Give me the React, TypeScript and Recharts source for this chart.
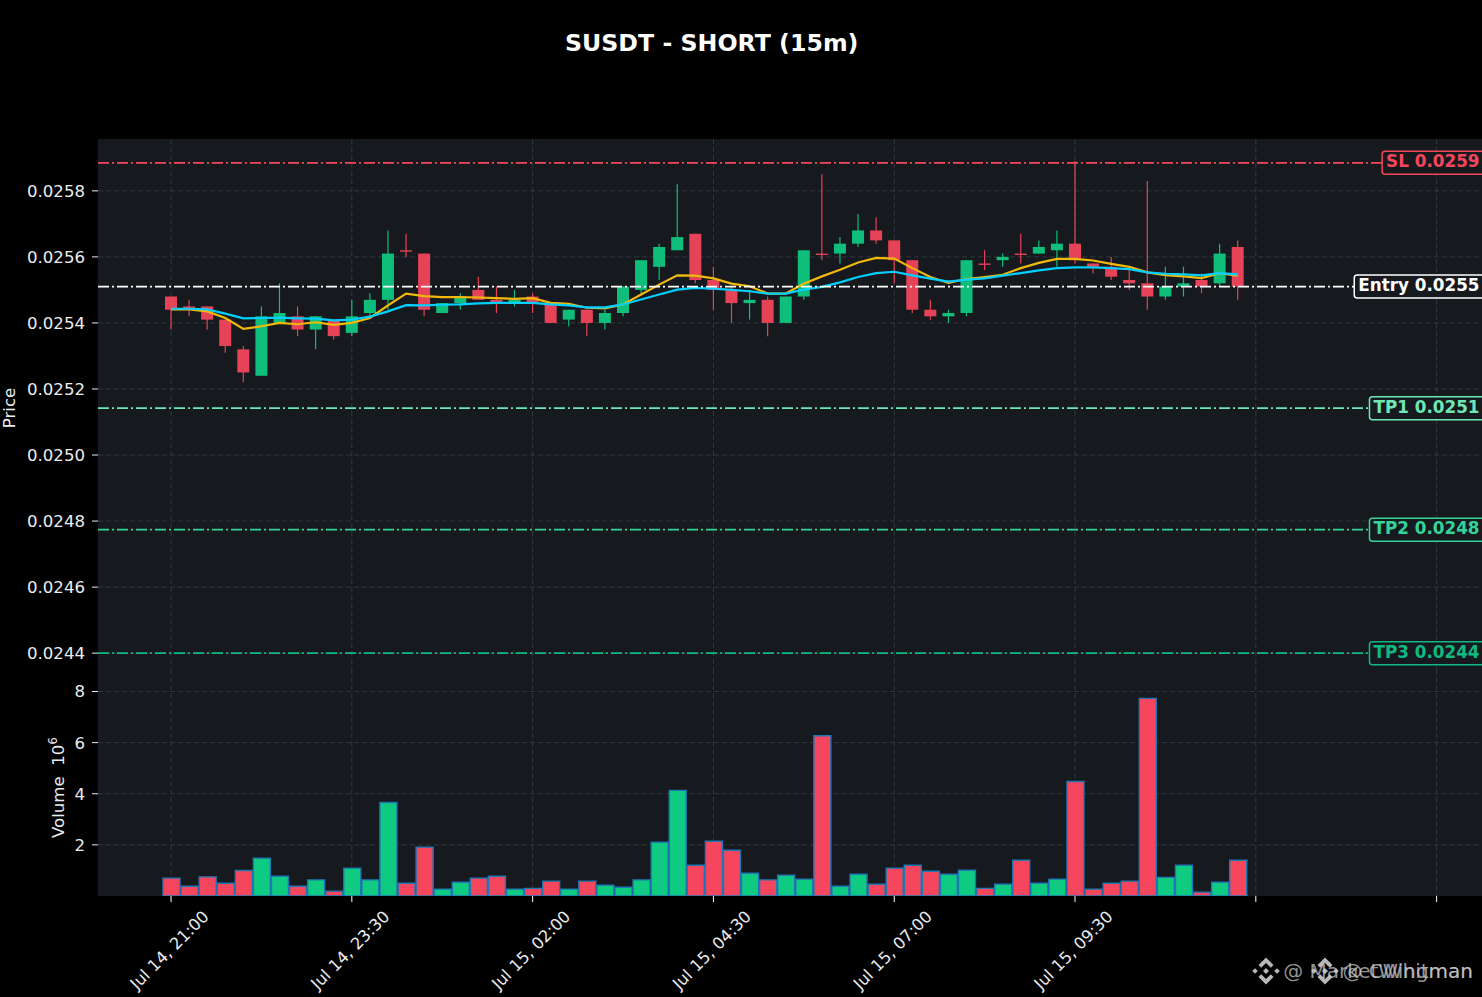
import React from "react";
import {
  Bar,
  CartesianGrid,
  Cell,
  ComposedChart,
  Line,
  ReferenceLine,
  XAxis,
  YAxis,
} from "recharts";

const opens = [
  0.02548, 0.02545, 0.02545, 0.02541, 0.02532, 0.02524, 0.0254, 0.02542, 0.02538, 0.02541,
  0.02537, 0.02543, 0.02547, 0.02562, 0.02561, 0.02543, 0.02546, 0.0255, 0.02547, 0.02546,
  0.02548, 0.02546, 0.02541, 0.02544, 0.0254, 0.02543, 0.0255, 0.02557, 0.02562, 0.02567,
  0.02553, 0.0255, 0.02546, 0.02547, 0.0254, 0.02548, 0.02561, 0.02561, 0.02564, 0.02568,
  0.02565, 0.02559, 0.02544, 0.02542, 0.02543, 0.02558, 0.02559, 0.02561, 0.02561, 0.02562,
  0.02564, 0.02558, 0.02557, 0.02553, 0.02552, 0.02548, 0.02551, 0.02553, 0.02552, 0.02563,
];
const highs = [
  0.02548, 0.02547, 0.02545, 0.02541, 0.02533, 0.02545, 0.02552, 0.02545, 0.02542, 0.02541,
  0.02547, 0.02549, 0.02568, 0.02567, 0.02561, 0.02546, 0.02549, 0.02554, 0.02551, 0.0255,
  0.02549, 0.02546, 0.02544, 0.02544, 0.02544, 0.02551, 0.02559, 0.02564, 0.02582, 0.02567,
  0.02557, 0.02551, 0.0255, 0.02548, 0.02548, 0.02562, 0.02585, 0.02566, 0.02573, 0.02572,
  0.02565, 0.02559, 0.02547, 0.02544, 0.02559, 0.02562, 0.02561, 0.02567, 0.02565, 0.02568,
  0.02589, 0.02558, 0.0256, 0.02556, 0.02583, 0.02557, 0.02557, 0.02555, 0.02564, 0.02565,
];
const lows = [
  0.02538, 0.02542, 0.02538, 0.02531, 0.02522, 0.02524, 0.0254, 0.02536, 0.02532, 0.02535,
  0.02536, 0.02542, 0.02544, 0.0256, 0.02542, 0.02543, 0.02544, 0.02547, 0.02543, 0.02545,
  0.02543, 0.0254, 0.02539, 0.02536, 0.02538, 0.02542, 0.02549, 0.02553, 0.02562, 0.02552,
  0.02544, 0.0254, 0.02541, 0.02536, 0.0254, 0.02547, 0.02559, 0.02558, 0.02563, 0.02564,
  0.02552, 0.02543, 0.02541, 0.0254, 0.02542, 0.02556, 0.02557, 0.02558, 0.02561, 0.02557,
  0.02558, 0.02555, 0.02553, 0.0255, 0.02544, 0.02547, 0.02548, 0.02549, 0.02551, 0.02547,
];
const closes = [
  0.02544, 0.02544, 0.02541, 0.02533, 0.02525, 0.02542, 0.02543, 0.02538, 0.02542, 0.02536,
  0.02542, 0.02547, 0.02561, 0.02562, 0.02544, 0.02546, 0.02548, 0.02547, 0.02546, 0.02547,
  0.02546, 0.0254, 0.02544, 0.0254, 0.02543, 0.02551, 0.02559, 0.02563, 0.02566, 0.02553,
  0.0255, 0.02546, 0.02547, 0.0254, 0.02548, 0.02562, 0.02561, 0.02564, 0.02568, 0.02565,
  0.02559, 0.02544, 0.02542, 0.02543, 0.02559, 0.02558, 0.0256, 0.02561, 0.02563, 0.02564,
  0.02559, 0.02557, 0.02554, 0.02552, 0.02548, 0.02551, 0.02552, 0.02551, 0.02561, 0.02551,
];
const fastMa = [
  0.025441, 0.025441, 0.025435, 0.025415, 0.025382, 0.02539, 0.0254, 0.025396, 0.025402, 0.025394,
  0.0254, 0.025415, 0.025453, 0.025489, 0.025481, 0.025478, 0.025478, 0.025477, 0.025475, 0.025473,
  0.025475, 0.025461, 0.025458, 0.025446, 0.025444, 0.025456, 0.025486, 0.025516, 0.025544, 0.025543,
  0.025535, 0.025519, 0.025511, 0.025489, 0.025489, 0.025519, 0.025541, 0.025561, 0.025583, 0.025597,
  0.025595, 0.025566, 0.025539, 0.025521, 0.025533, 0.025539, 0.025546, 0.025566, 0.025582, 0.025594,
  0.025594, 0.025589, 0.025579, 0.02557, 0.025553, 0.025545, 0.025541, 0.025536, 0.025551, 0.025543,
];
const slowMa = [
  0.025443, 0.025443, 0.025441, 0.025428, 0.025414, 0.025415, 0.025416, 0.025414, 0.025413, 0.025408,
  0.02541, 0.025419, 0.025435, 0.025454, 0.025453, 0.025455, 0.025456, 0.025459, 0.025461, 0.025461,
  0.025461, 0.025456, 0.025453, 0.025447, 0.025447, 0.025456, 0.025471, 0.025486, 0.025501, 0.025506,
  0.025504, 0.0255, 0.025496, 0.025489, 0.025489, 0.025501, 0.025509, 0.025523, 0.025539, 0.025551,
  0.025555, 0.025544, 0.025534, 0.025525, 0.025531, 0.025535, 0.025543, 0.025551, 0.025559, 0.025566,
  0.025568, 0.025568, 0.025566, 0.025563, 0.025553, 0.025549, 0.025547, 0.025544, 0.025551, 0.025547,
];
const volumes = [
  0.7, 0.38, 0.75, 0.5, 1.0, 1.48, 0.77, 0.38, 0.63, 0.19,
  1.09, 0.63, 3.66, 0.5, 1.91, 0.27, 0.54, 0.7, 0.77, 0.27,
  0.3, 0.58, 0.27, 0.58, 0.42, 0.34, 0.63, 2.1, 4.13, 1.2,
  2.14, 1.79, 0.89, 0.63, 0.81, 0.66, 6.27, 0.38, 0.85, 0.46,
  1.09, 1.2, 0.97, 0.85, 1.01, 0.3, 0.46, 1.4, 0.5, 0.66,
  4.48, 0.27, 0.5, 0.58, 7.73, 0.73, 1.2, 0.15, 0.54, 1.4,
];

const xTicks = [0, 10, 20, 30, 40, 50, 60, 70];
const xTickLabels = [
  "Jul 14, 21:00",
  "Jul 14, 23:30",
  "Jul 15, 02:00",
  "Jul 15, 04:30",
  "Jul 15, 07:00",
  "Jul 15, 09:30",
  "",
  "",
];
const priceTicks = [0.0244, 0.0246, 0.0248, 0.025, 0.0252, 0.0254, 0.0256, 0.0258];
const volumeTicks = [2, 4, 6, 8];

const levelNames = ["SL", "Entry", "TP1", "TP2", "TP3"];
const levelPrices = [0.025885, 0.02551, 0.025142, 0.024774, 0.0244];
const levelTexts = ["0.0259", "0.0255", "0.0251", "0.0248", "0.0244"];
const levelColors = ["#F6465D", "#FFFFFF", "#6EE7B7", "#34D399", "#10B981"];

const candleData = opens.map((open, i) => ({
  i,
  open,
  high: highs[i],
  low: lows[i],
  close: closes[i],
  fastMa: fastMa[i],
  slowMa: slowMa[i],
}));
const volumeData = volumes.map((volume, i) => ({ i, volume }));

const UP = "#0ECB81";
const DOWN = "#F6465D";
const PANEL = "#161A1E";
const GRID = "#33383F";
const TEXT = "#EAECEF";
const FONT = "'DejaVu Sans', sans-serif";
const X_DOMAIN: [number, number] = [-4.04, 72.51];
const WIDTH = 1482;
const LABEL_FONT = `bold 16.8px ${FONT}`;

function textWidth(text: string) {
  const ctx = document.createElement("canvas").getContext("2d");
  if (!ctx) return text.length * 10;
  ctx.font = LABEL_FONT;
  return ctx.measureText(text).width;
}

/** Wick spans low..high (the bar range), body is placed inside it by ratio. */
function Candle(props: any) {
  const { x, y, width, height, payload } = props;
  const { open, close, high, low } = payload;
  const color = close > open ? UP : DOWN;
  const perUnit = high === low ? 0 : height / (high - low);
  const top = y + (high - Math.max(open, close)) * perUnit;
  const bodyH = Math.max(Math.abs(open - close) * perUnit, 1.4);
  const cx = x + width / 2;
  return (
    <g opacity={0.93}>
      <line x1={cx} x2={cx} y1={y} y2={y + height} stroke={color} strokeWidth={1.2} />
      <rect x={x} y={top} width={width} height={bodyH} fill={color} />
    </g>
  );
}

function LevelLabel(props: any) {
  const { viewBox, text, color } = props;
  const y = viewBox.y;
  const w = textWidth(text) + 6;
  return (
    <g>
      <rect
        x={WIDTH - w - 0.5}
        y={y - 11.5}
        width={w + 6}
        height={23}
        rx={3}
        fill={PANEL}
        stroke={color}
        strokeWidth={1.5}
      />
      <text
        x={WIDTH - 2.5}
        y={y - 0.5}
        textAnchor="end"
        dominantBaseline="middle"
        fill={color}
        style={{ font: LABEL_FONT }}
      >
        {text}
      </text>
    </g>
  );
}

function AngledTick({ x = 0, y = 0, payload }: any) {
  const label = xTickLabels[xTicks.indexOf(payload?.value)];
  const cx = x - 1.5;
  const cy = y + 46;
  return (
    <text
      x={cx}
      y={cy}
      textAnchor="middle"
      dominantBaseline="central"
      transform={`rotate(-45, ${cx}, ${cy})`}
      fontSize={16.3}
      fontFamily={FONT}
      fill={TEXT}
    >
      {label}
    </text>
  );
}

function BinanceMark({ left }: { left: number }) {
  const d = (cx: number, cy: number, r: number) =>
    `${cx - r},${cy} ${cx},${cy - r} ${cx + r},${cy} ${cx},${cy + r}`;
  return (
    <svg
      width={28}
      height={28}
      viewBox="0 0 28 28"
      style={{ position: "absolute", left, top: 957 }}
    >
      <g fill="#D8D8D8" fillOpacity={0.85}>
        <polygon points={d(14, 14, 3)} />
        <polygon points={d(3, 14, 2.8)} />
        <polygon points={d(25, 14, 2.8)} />
        <path d="M14 0.5 L21.5 8 L18.8 10.7 L14 6 L9.2 10.7 L6.5 8 Z" />
        <path d="M14 27.5 L21.5 20 L18.8 17.3 L14 22 L9.2 17.3 L6.5 20 Z" />
      </g>
    </svg>
  );
}

const watermarkStyle: React.CSSProperties = {
  position: "absolute",
  right: 9,
  top: 960,
  fontFamily: FONT,
  fontSize: 20,
  lineHeight: "22px",
  color: "rgba(205,205,205,0.72)",
  whiteSpace: "nowrap",
};

export default function App() {
  return (
    <div
      style={{
        position: "absolute",
        left: 0,
        top: 0,
        width: WIDTH,
        height: 997,
        background: "#000",
        overflow: "hidden",
      }}
    >
      <div
        style={{
          position: "absolute",
          left: 565,
          top: 29,
          fontFamily: FONT,
          fontWeight: 700,
          fontSize: 23.7,
          color: "#fff",
          whiteSpace: "nowrap",
        }}
      >
        SUSDT - SHORT (15m)
      </div>

      <div style={{ position: "absolute", left: 0, top: 0 }}>
        <ComposedChart
          width={WIDTH}
          height={669}
          data={candleData}
          margin={{ top: 139, right: 0, bottom: 0, left: 0 }}
        >
          <CartesianGrid fill={PANEL} stroke={GRID} strokeDasharray="5 3" syncWithTicks />
          <XAxis
            dataKey="i"
            type="number"
            domain={X_DOMAIN}
            ticks={xTicks}
            interval={0}
            allowDataOverflow
            height={0}
            tick={() => <g />}
            tickLine={false}
            axisLine={false}
          />
          <YAxis
            type="number"
            width={98}
            domain={[0.024352, 0.025957]}
            allowDataOverflow
            ticks={priceTicks}
            interval={0}
            tickFormatter={(v: number) => v.toFixed(4)}
            tick={{ fontSize: 16.6, fontFamily: FONT, fill: TEXT }}
            tickLine={{ stroke: TEXT }}
            tickSize={6}
            tickMargin={7}
            axisLine={false}
          />
          <Bar
            dataKey={(d: any) => [d.low, d.high]}
            barSize={12}
            shape={<Candle />}
            isAnimationActive={false}
          />
          <Line
            dataKey="fastMa"
            stroke="#F0B90B"
            strokeWidth={2.2}
            dot={false}
            activeDot={false}
            isAnimationActive={false}
          />
          <Line
            dataKey="slowMa"
            stroke="#00CFFF"
            strokeWidth={2.2}
            dot={false}
            activeDot={false}
            isAnimationActive={false}
          />
          {levelPrices.map((price, i) => (
            <ReferenceLine
              key={levelNames[i]}
              y={price}
              stroke={levelColors[i]}
              strokeWidth={1.7}
              strokeDasharray="11 3 2 3"
              label={
                <LevelLabel
                  text={`${levelNames[i]} ${levelTexts[i]}`}
                  color={levelColors[i]}
                />
              }
            />
          ))}
          <text
            x={15}
            y={408}
            textAnchor="middle"
            transform="rotate(-90, 15, 408)"
            fontSize={16.6}
            fontFamily={FONT}
            fill={TEXT}
          >
            Price
          </text>
        </ComposedChart>
      </div>

      <div style={{ position: "absolute", left: 0, top: 669 }}>
        <ComposedChart
          width={WIDTH}
          height={328}
          data={volumeData}
          barCategoryGap={0}
          margin={{ top: 0, right: 0, bottom: 0, left: 0 }}
        >
          <CartesianGrid fill={PANEL} stroke={GRID} strokeDasharray="5 3" syncWithTicks />
          <XAxis
            dataKey="i"
            type="number"
            domain={X_DOMAIN}
            ticks={xTicks}
            interval={0}
            allowDataOverflow
            height={101}
            tick={<AngledTick />}
            tickLine={{ stroke: "#fff" }}
            tickSize={6}
            axisLine={false}
          />
          <YAxis
            type="number"
            width={98}
            domain={[0, 8.88]}
            allowDataOverflow
            ticks={volumeTicks}
            interval={0}
            tick={{ fontSize: 16.6, fontFamily: FONT, fill: TEXT }}
            tickLine={{ stroke: TEXT }}
            tickSize={6}
            tickMargin={7}
            axisLine={false}
          />
          <Bar
            dataKey="volume"
            barSize={17}
            stroke="#1F77B4"
            strokeWidth={1.4}
            isAnimationActive={false}
          >
            {volumeData.map((d) => (
              <Cell key={d.i} fill={closes[d.i] > opens[d.i] ? UP : DOWN} />
            ))}
          </Bar>
          <text
            x={64}
            y={169}
            transform="rotate(-90, 64, 169)"
            fontSize={16.6}
            fontFamily={FONT}
            fill={TEXT}
            xmlSpace="preserve"
          >
            {"Volume  10"}
            <tspan dy={-7} fontSize={11.5}>
              6
            </tspan>
          </text>
        </ComposedChart>
      </div>

      <BinanceMark left={1252} />
      <BinanceMark left={1311} />
      <div style={watermarkStyle}>@ MarketWingman</div>
      <div style={watermarkStyle}>@ CWhitman</div>
    </div>
  );
}
